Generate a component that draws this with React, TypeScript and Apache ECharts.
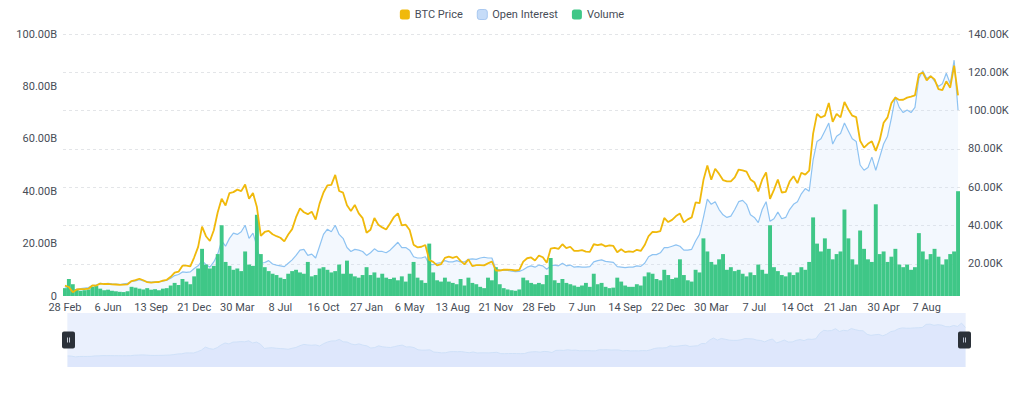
import React, { useEffect, useRef } from "react";
import * as echarts from "echarts";

// Tick label anchor dates (every 11th category)
const tickDates = [
  "2020-02-28", "2020-06-06", "2020-09-13", "2020-12-21", "2021-03-30", "2021-07-08",
  "2021-10-16", "2022-01-27", "2022-05-06", "2022-08-13", "2022-11-21", "2023-02-28",
  "2023-06-07", "2023-09-14", "2023-12-22", "2024-03-30", "2024-07-07", "2024-10-14",
  "2025-01-21", "2025-04-30", "2025-08-07",
];

// BTC price (USD), sampled every 9 days
const btcPrice = [
  8700, 8000, 5300, 6700, 6850, 6850, 7100, 8800, 8750, 9750, 9550,
  9650, 9400, 9300, 9100, 9250, 9400, 11100, 11600, 12300, 11500, 10500,
  10330, 10500, 10600, 11300, 11750, 13300, 15500, 16000, 19100, 19200, 18800,
  23500, 28900, 39500, 34500, 32000, 37600, 47000, 54000, 50500, 57000, 57500,
  58800, 58000, 61500, 54000, 57000, 49700, 34700, 36700, 37300, 35500, 34500,
  33700, 31800, 35400, 38200, 44400, 49000, 47000, 46000, 47300, 43200, 51500,
  57300, 61000, 61300, 66500, 58100, 57200, 50600, 47600, 50800, 46400, 43900,
  36300, 37900, 44000, 40500, 39100, 38000, 41100, 44500, 46400, 40100, 40500,
  37700, 30100, 28700, 29000, 29900, 22100, 21100, 19300, 19900, 23200, 23800,
  23200, 23900, 21600, 19800, 22400, 18900, 19400, 19400, 19300, 20300, 21300,
  16600, 16600, 17000, 17100, 16900, 16600, 16950, 21200, 23000, 23400, 21800,
  24400, 23500, 20600, 28000, 28400, 27900, 30300, 28300, 29000, 26800, 26800,
  27200, 26500, 26300, 30300, 29900, 30300, 29200, 29700, 29400, 26100, 27700,
  26200, 26600, 26300, 27400, 26800, 29900, 34600, 36700, 36600, 37200, 44000,
  41900, 43000, 45000, 46300, 41700, 43300, 44300, 52100, 51700, 63800, 71400,
  64000, 69700, 67000, 63800, 63100, 63100, 65200, 69300, 68800, 68200, 64100,
  62700, 57900, 64000, 67800, 54000, 58700, 64100, 57300, 57600, 63000, 65800,
  62200, 67600, 66600, 68700, 88000, 98300, 96400, 97400, 104000, 94200, 98300,
  96500, 104500, 100600, 97400, 96600, 84300, 80700, 82700, 84000, 79000, 84600,
  93700, 96500, 104000, 106800, 105600, 105700, 106800, 107300, 108000, 119000, 119900,
  115800, 118000, 116300, 111200, 110700, 115300, 112000, 123500, 108000,
];

// Open interest (billions USD)
const openInterest = [
  3.5, 2.8, 2.2, 2.5, 2.8, 3.0, 3.2, 4.0, 4.2, 4.8, 4.6,
  4.8, 4.6, 4.5, 4.4, 4.6, 4.8, 5.6, 5.8, 6.2, 5.8, 5.5,
  5.3, 5.4, 5.5, 5.7, 6.0, 6.8, 7.8, 8.2, 9.2, 9.0, 9.2,
  10.5, 11.5, 13.5, 12.0, 11.0, 13.0, 16.0, 21.0, 19.0, 22.0, 24.0,
  23.5, 24.5, 27.0, 22.0, 24.0, 19.0, 12.5, 12.8, 13.5, 12.2, 11.8,
  11.5, 11.2, 12.5, 13.8, 15.5, 17.5, 17.8, 15.5, 16.0, 14.5, 19.0,
  23.5, 25.5, 24.5, 27.0, 23.5, 22.0, 18.5, 17.0, 17.8, 17.5, 17.0,
  15.5, 16.5, 18.0, 17.0, 17.0, 16.5, 17.5, 19.0, 20.5, 18.5, 18.5,
  17.5, 15.0, 14.5, 14.5, 15.0, 12.0, 12.0, 12.5, 12.8, 13.5, 13.0,
  13.0, 13.5, 13.0, 13.0, 14.0, 14.2, 14.0, 14.5, 14.8, 14.5, 14.5,
  10.2, 10.0, 9.8, 9.8, 9.5, 9.3, 9.4, 10.0, 11.0, 11.5, 11.0,
  11.8, 11.5, 10.2, 11.5, 11.8, 11.5, 12.5, 11.5, 11.8, 11.0, 11.2,
  11.0, 11.0, 11.2, 13.0, 13.5, 13.8, 13.2, 13.0, 12.8, 11.2, 11.0,
  10.8, 11.0, 11.0, 11.5, 11.3, 12.5, 15.0, 15.8, 15.8, 16.5, 18.5,
  18.5, 19.0, 19.5, 19.0, 17.5, 17.5, 17.8, 21.0, 23.5, 30.0, 37.0,
  35.0, 36.0, 33.0, 31.0, 30.0, 30.5, 33.0, 36.0, 36.5, 35.0, 31.0,
  30.0, 28.0, 33.0, 36.0, 28.5, 29.5, 32.0, 29.5, 30.0, 33.0, 35.0,
  36.0, 39.0, 41.0, 40.0, 52.0, 59.0, 60.0, 63.0, 66.0, 58.0, 61.0,
  62.0, 66.0, 63.0, 60.0, 59.0, 50.0, 48.0, 49.0, 53.0, 48.0, 53.0,
  58.0, 61.0, 68.0, 76.0, 72.0, 70.0, 71.0, 70.0, 72.0, 83.0, 86.0,
  83.0, 84.0, 82.0, 80.0, 81.0, 85.0, 81.0, 90.0, 71.0,
];

// Volume (billions USD)
const volume = [
  3.0, 6.5, 4.5, 2.5, 2.0, 2.2, 2.5, 3.5, 3.8, 2.8, 2.2,
  2.4, 2.0, 1.8, 1.6, 1.5, 1.8, 3.5, 3.2, 2.8, 2.5, 3.0,
  2.4, 2.6, 2.2, 2.8, 3.0, 4.0, 5.0, 4.2, 6.5, 5.5, 4.5,
  7.5, 10.5, 18.0, 12.0, 10.5, 11.5, 16.0, 27.0, 13.0, 11.5, 10.0,
  10.5, 9.5, 17.0, 12.0, 11.5, 31.0, 16.0, 11.0, 9.5, 8.5, 8.0,
  7.0, 6.5, 8.5, 9.5, 10.0, 9.0, 8.5, 13.0, 7.5, 8.0, 10.5,
  11.0, 10.0, 9.0, 9.5, 12.0, 8.5, 13.5, 8.5, 7.5, 7.0, 8.0,
  11.0, 8.0, 9.0, 7.0, 8.5, 7.0, 6.5, 7.0, 6.0, 7.5, 5.5,
  8.5, 13.0, 7.0, 6.0, 5.0, 20.0, 9.0, 6.0, 5.5, 7.0, 5.5,
  5.0, 4.5, 6.5, 4.0, 7.0, 5.0, 4.5, 3.5, 3.0, 7.0, 6.0,
  11.0, 4.5, 3.0, 2.5, 2.2, 2.0, 2.5, 7.0, 6.0, 5.0, 4.5,
  5.0, 4.5, 8.0, 14.5, 6.0, 5.0, 6.5, 5.0, 4.5, 4.0, 3.5,
  4.0, 5.0, 3.5, 8.5, 4.5, 5.0, 3.5, 3.0, 3.2, 7.0, 5.5,
  4.0, 3.5, 3.5, 4.5, 4.0, 7.5, 9.0, 8.5, 6.5, 6.0, 10.0,
  8.0, 6.5, 7.0, 14.0, 8.0, 6.0, 5.5, 10.0, 9.0, 22.0, 17.0,
  13.0, 12.0, 14.0, 16.0, 10.0, 11.0, 9.5, 10.0, 8.5, 7.5, 9.0,
  8.0, 12.0, 10.0, 8.5, 27.0, 11.0, 9.5, 8.0, 7.5, 9.0, 8.0,
  9.0, 11.0, 10.0, 13.0, 30.0, 20.0, 17.0, 22.0, 18.0, 14.0, 16.0,
  17.0, 33.0, 22.0, 14.0, 12.0, 25.0, 18.0, 14.0, 13.0, 35.0, 16.0,
  17.0, 13.0, 15.0, 18.0, 12.0, 11.0, 12.0, 10.0, 11.0, 24.0, 17.0,
  14.0, 16.0, 18.0, 15.0, 12.0, 14.0, 16.0, 17.0, 40.0,
];

const leftTicks = [0, 20, 40, 60, 80, 100];
const rightTicks = [20000, 40000, 60000, 80000, 100000, 120000, 140000];
const MONTHS = ["Jan", "Feb", "Mar", "Apr", "May", "Jun", "Jul", "Aug", "Sep", "Oct", "Nov", "Dec"];

function buildCategories(): string[] {
  const out: string[] = [];
  tickDates.forEach((d, j) => {
    const base = Date.parse(d + "T00:00:00Z");
    const n = j < tickDates.length - 1 ? 11 : btcPrice.length - 11 * (tickDates.length - 1);
    for (let k = 0; k < n; k++) {
      out.push(new Date(base + k * 9 * 86400000).toISOString().slice(0, 10));
    }
  });
  return out;
}
const categories = buildCategories();

const FONT = "Roboto, sans-serif";
const LABEL_COLOR = "#474d57";

export default function App() {
  const ref = useRef<HTMLDivElement>(null);
  useEffect(() => {
    if (!ref.current) return;
    const chart = echarts.init(ref.current, null, { renderer: "svg" });
    chart.setOption({
      animation: false,
      textStyle: { fontFamily: FONT },
      legend: {
        top: 4,
        left: "center",
        itemWidth: 10,
        itemHeight: 10,
        itemGap: 14,
        icon: "roundRect",
        textStyle: { color: LABEL_COLOR, fontSize: 11, fontFamily: FONT },
        data: [
          { name: "BTC Price", itemStyle: { color: "#F0B90B" } },
          { name: "Open Interest", itemStyle: { color: "#c6dcf8", borderColor: "#a9c8f0", borderWidth: 1 } },
          { name: "Volume", itemStyle: { color: "#3fc787" } },
        ],
      },
      grid: { left: 63, right: 64, top: 34, bottom: 97, containLabel: false },
      xAxis: {
        type: "category",
        data: categories,
        boundaryGap: true,
        axisLine: { show: false },
        axisTick: { show: false },
        axisLabel: {
          color: LABEL_COLOR,
          fontSize: 11,
          margin: 6,
          interval: (idx: number) => idx % 11 === 0,
          formatter: (v: string) => {
            const [, m, d] = v.split("-");
            return `${parseInt(d, 10)} ${MONTHS[parseInt(m, 10) - 1]}`;
          },
        },
      },
      yAxis: [
        {
          type: "value",
          position: "left",
          min: 0,
          max: 100,
          interval: 20,
          splitLine: { show: false },
          axisLine: { show: false },
          axisTick: { show: false },
          axisLabel: {
            color: LABEL_COLOR,
            fontSize: 11,
            margin: 6,
            customValues: leftTicks,
            formatter: (v: number) => (v === 0 ? "0" : v.toFixed(2) + "B"),
          },
        },
        {
          type: "value",
          position: "right",
          min: 3300,
          max: 140000,
          axisLine: { show: false },
          axisTick: { show: false, customValues: rightTicks },
          splitLine: { show: true, lineStyle: { color: "#e3e5e8", type: [3, 3], width: 1 } },
          axisLabel: {
            color: LABEL_COLOR,
            fontSize: 11,
            margin: 8,
            customValues: rightTicks,
            formatter: (v: number) => (v / 1000).toFixed(2) + "K",
          },
        },
      ],
      dataZoom: [
        {
          type: "slider",
          xAxisIndex: 0,
          start: 0,
          end: 100,
          left: 65,
          right: 61,
          top: 313,
          height: 54,
          showDetail: false,
          brushSelect: false,
          moveHandleSize: 0,
          borderColor: "transparent",
          backgroundColor: "#eef2fd",
          fillerColor: "rgba(230,237,253,0.5)",
          handleIcon:
            "path://M2,0 L11,0 Q13,0 13,2 L13,15 Q13,17 11,17 L2,17 Q0,17 0,15 L0,2 Q0,0 2,0 Z M5,6 L5,11 L5.8,11 L5.8,6 Z M7.2,6 L7.2,11 L8,11 L8,6 Z",
          handleSize: 17,
          handleStyle: { color: "#2b3139", borderWidth: 0 },
          dataBackground: {
            lineStyle: { color: "#b9d4f3", width: 1, opacity: 1 },
            areaStyle: { color: "#d6e1fa", opacity: 1 },
          },
          selectedDataBackground: {
            lineStyle: { color: "#b9d4f3", width: 1, opacity: 1 },
            areaStyle: { color: "#d6e1fa", opacity: 1 },
          },
        },
      ],
      series: [
        {
          name: "BTC Price",
          type: "line",
          yAxisIndex: 1,
          data: btcPrice,
          showSymbol: false,
          symbol: "none",
          z: 4,
          lineStyle: { color: "#F0B90B", width: 1.8 },
          itemStyle: { color: "#F0B90B" },
        },
        {
          name: "Open Interest",
          type: "line",
          yAxisIndex: 0,
          data: openInterest,
          showSymbol: false,
          symbol: "none",
          z: 1,
          lineStyle: { color: "#8ec3f2", width: 1.2 },
          itemStyle: { color: "#c6dcf8" },
          areaStyle: { color: "rgba(205,225,250,0.35)" },
        },
        {
          name: "Volume",
          type: "bar",
          yAxisIndex: 0,
          data: volume,
          z: 2,
          barCategoryGap: "0%",
          itemStyle: { color: "#3fc787" },
        },
      ],
    });
    return () => chart.dispose();
  }, []);
  return (
    <div
      ref={ref}
      style={{ position: "absolute", left: 0, top: 0, width: 1024, height: 393 }}
    />
  );
}
